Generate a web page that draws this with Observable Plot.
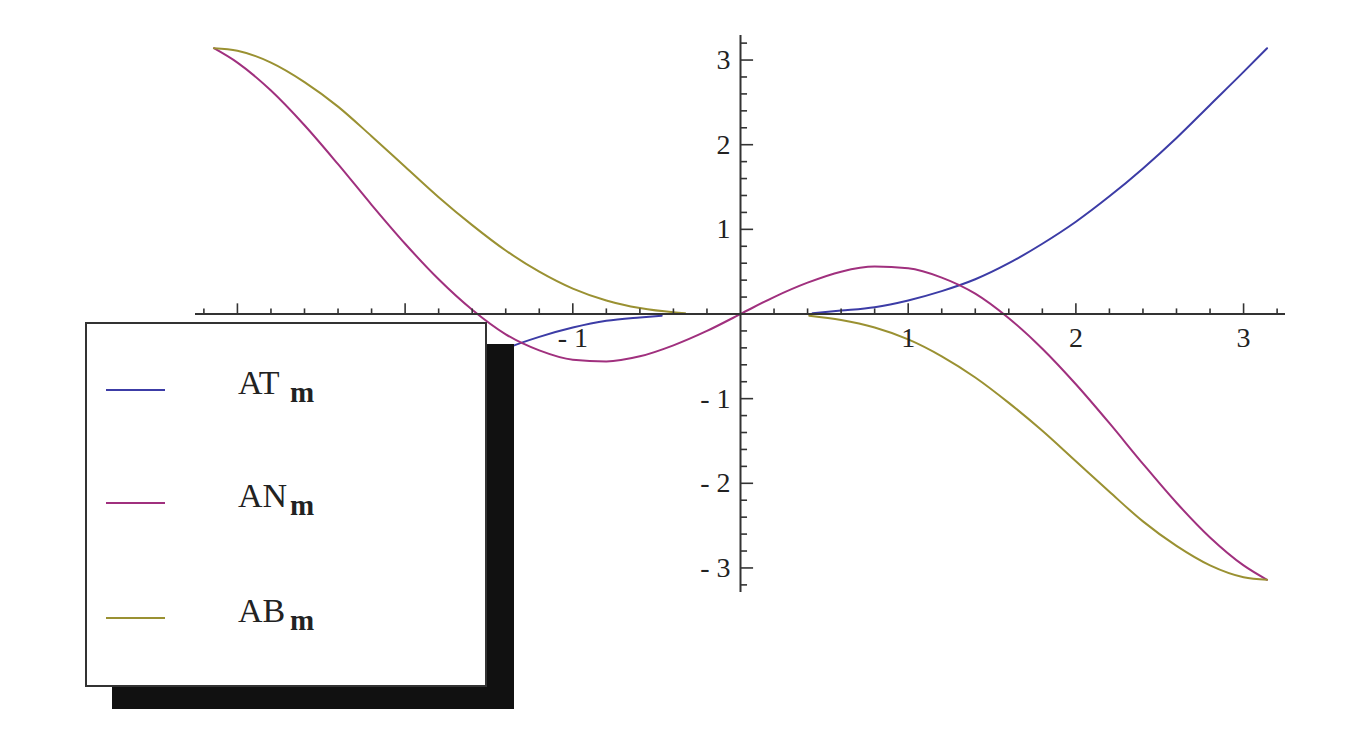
<!DOCTYPE html>
<html><head><meta charset="utf-8">
<script src="https://cdn.jsdelivr.net/npm/d3@7"></script>
<script src="https://cdn.jsdelivr.net/npm/@observablehq/plot@0.6"></script>
<style>
body{margin:0;background:#fff;}
#wrap{position:relative;width:1364px;height:736px;overflow:hidden;}
#legend{position:absolute;left:85px;top:322px;width:402px;height:365px;box-sizing:border-box;border:2px solid #333;background:#fff;box-shadow:27px 22px 0 0 #111;}
#legend svg{position:absolute;left:0;top:0;overflow:visible;}
</style></head><body><div id="wrap"></div>
<script>
// Series names and colours
const seriesNames = ["AT", "AN", "AB"];
const seriesColors = ["#3c3ca6", "#a0307e", "#9a9132"];

// AN_m (continuous)
const anX = [-3.14,-3.0,-2.8,-2.6,-2.4,-2.2,-2.0,-1.8,-1.6,-1.4,-1.2,-1.0,-0.8,-0.6,-0.4,-0.2,0,0.2,0.4,0.6,0.8,1.0,1.2,1.4,1.6,1.8,2.0,2.2,2.4,2.6,2.8,3.0,3.14];
const anY = [3.14,2.97,2.64,2.23,1.77,1.29,0.83,0.41,0.05,-0.24,-0.43,-0.54,-0.56,-0.50,-0.37,-0.20,0,0.20,0.37,0.50,0.56,0.54,0.43,0.24,-0.05,-0.41,-0.83,-1.29,-1.77,-2.23,-2.64,-2.97,-3.14];

// AT_m (gap near the origin)
const atX = [-3.14,-3.0,-2.8,-2.6,-2.4,-2.2,-2.0,-1.8,-1.6,-1.4,-1.2,-1.0,-0.8,-0.6,-0.47,0,0.43,0.6,0.8,1.0,1.2,1.4,1.6,1.8,2.0,2.2,2.4,2.6,2.8,3.0,3.14];
const atY = [-3.14,-2.86,-2.47,-2.08,-1.72,-1.39,-1.09,-0.83,-0.60,-0.41,-0.27,-0.16,-0.08,-0.04,-0.02,null,0.01,0.04,0.08,0.16,0.27,0.41,0.60,0.83,1.09,1.39,1.72,2.08,2.47,2.86,3.14];

// AB_m (gap near the origin)
const abX = [-3.14,-3.0,-2.8,-2.6,-2.4,-2.2,-2.0,-1.8,-1.6,-1.4,-1.2,-1.0,-0.8,-0.6,-0.4,-0.33,0,0.41,0.6,0.8,1.0,1.2,1.4,1.6,1.8,2.0,2.2,2.4,2.6,2.8,3.0,3.14];
const abY = [3.14,3.11,2.97,2.74,2.45,2.10,1.74,1.38,1.05,0.75,0.50,0.30,0.16,0.07,0.02,0.01,null,-0.02,-0.07,-0.16,-0.30,-0.50,-0.75,-1.05,-1.38,-1.74,-2.10,-2.45,-2.74,-2.97,-3.11,-3.14];

// Ticks
const xMajor = [-3,-2,-1,1,2,3];
const xTickLabels = ["- 3","- 2","- 1","1","2","3"];
const yMajor = [-3,-2,-1,1,2,3];
const yTickLabels = ["- 3","- 2","- 1","1","2","3"];
const minorTicks = d3.range(-16,17).filter(i => i % 5 !== 0).map(i => i/5);

const toRows = (xs, ys) => xs.map((x,i) => ({x, y: ys[i]}));
const tables = [toRows(atX, atY), toRows(anX, anY), toRows(abX, abY)];

const axisColor = "#333";
const plot = Plot.plot({
  width: 1364, height: 736,
  marginLeft: 195, marginRight: 79, marginTop: 35, marginBottom: 144,
  x: {domain: [-3.25, 3.25], axis: null},
  y: {domain: [-3.29, 3.29], axis: null},
  style: {fontFamily: "Liberation Serif, serif", background: "white", overflow: "visible"},
  marks: [
    ...tables.map((t,k) => Plot.line(t, {x: "x", y: "y", stroke: seriesColors[k], strokeWidth: 2, curve: "monotone-x"})),
    Plot.ruleY([0], {stroke: axisColor, strokeWidth: 2}),
    Plot.ruleX([0], {stroke: axisColor, strokeWidth: 2}),
    Plot.ruleX(minorTicks, {x: d => d, y1: 0, y2: 0.06, stroke: axisColor, strokeWidth: 1.6}),
    Plot.ruleX(xMajor, {x: d => d, y1: 0, y2: 0.12, stroke: axisColor, strokeWidth: 1.6}),
    Plot.ruleY(minorTicks, {y: d => d, x1: 0, x2: 0.042, stroke: axisColor, strokeWidth: 1.6}),
    Plot.ruleY(yMajor, {y: d => d, x1: 0, x2: 0.078, stroke: axisColor, strokeWidth: 1.6}),
    Plot.text(xMajor, {x: d => d, y: 0, dy: 24, text: (d,i) => xTickLabels[i], fontSize: 28, fill: "#222"}),
    Plot.text(yMajor, {x: 0, y: d => d, dx: -10, textAnchor: "end", text: (d,i) => yTickLabels[i], fontSize: 28, fill: "#222"})
  ]
});
const wrap = document.getElementById("wrap");
wrap.appendChild(plot);

// Legend box (HTML overlay with shadow)
const legend = document.createElement("div");
legend.id = "legend";
const ns = "http://www.w3.org/2000/svg";
const lsvg = document.createElementNS(ns, "svg");
lsvg.setAttribute("width", 398); lsvg.setAttribute("height", 361);
const rowY = [66, 179, 294];
seriesNames.forEach((name, k) => {
  const ln = document.createElementNS(ns, "line");
  ln.setAttribute("x1", 19); ln.setAttribute("x2", 78);
  ln.setAttribute("y1", rowY[k]); ln.setAttribute("y2", rowY[k]);
  ln.setAttribute("stroke", seriesColors[k]); ln.setAttribute("stroke-width", 2);
  lsvg.appendChild(ln);
  const t = document.createElementNS(ns, "text");
  t.setAttribute("x", 151); t.setAttribute("y", rowY[k] + 4);
  t.setAttribute("font-family", "Liberation Serif, serif");
  t.setAttribute("font-size", 34); t.setAttribute("fill", "#222");
  t.textContent = name;
  lsvg.appendChild(t);
  const s = document.createElementNS(ns, "text");
  s.setAttribute("x", 203); s.setAttribute("y", rowY[k] + 12);
  s.setAttribute("font-family", "Liberation Serif, serif");
  s.setAttribute("font-size", 29); s.setAttribute("font-weight", "bold"); s.setAttribute("fill", "#222");
  s.textContent = "m";
  lsvg.appendChild(s);
});
legend.appendChild(lsvg);
wrap.appendChild(legend);
</script></body></html>
